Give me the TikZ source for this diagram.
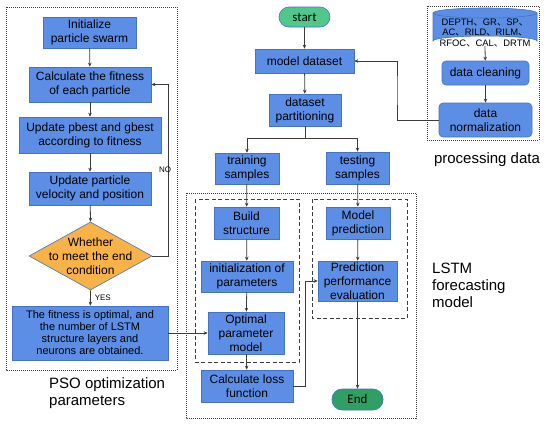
\documentclass[tikz,border=0pt]{standalone}
\usepackage{fontspec}
\setmainfont{Liberation Sans}
\newfontfamily\cjkfont{Noto Sans CJK SC}
\newfontfamily\califont{Carlito}
\usetikzlibrary{shapes.geometric,arrows.meta}
\definecolor{boxblue}{RGB}{91,142,228}
\definecolor{boxedge}{RGB}{68,114,196}
\definecolor{diaorange}{RGB}{247,178,72}
\definecolor{startgreen}{RGB}{80,200,140}
\definecolor{endgreen}{RGB}{46,160,100}
\definecolor{linegray}{RGB}{60,60,60}
\newcommand{\cc}{{\cjkfont 、}}
\begin{document}
\begin{tikzpicture}[x=1pt,y=-1pt,
  bbox/.style={draw=boxedge,fill=boxblue,line width=0.6pt,inner sep=0pt,align=center,
    font=\fontsize{12}{14}\selectfont},
  rbox/.style={bbox,rounded corners=4pt},
  term/.style={draw=boxedge,line width=0.6pt,rounded corners=10pt,inner sep=0pt,
    font=\califont\fontsize{13}{15}\selectfont},
  arr/.style={draw=linegray,line width=0.8pt,-{Stealth[length=4pt,width=3.5pt]}},
  conn/.style={draw=linegray,line width=0.8pt},
  dotbox/.style={draw=linegray,line width=0.7pt,dash pattern=on 1pt off 1pt},
  dashbox/.style={draw=linegray,line width=0.9pt,dash pattern=on 4pt off 2.5pt},
  biglabel/.style={font=\fontsize{15}{17}\selectfont,align=left,inner sep=0pt},
  tiny/.style={font=\fontsize{8}{9}\selectfont,inner sep=0pt}
]
\useasboundingbox (0,0) rectangle (550,424);
% group frames
\draw[dotbox] (6,7) rectangle (177,370);
\draw[dotbox] (186,193) rectangle (416,418);
\draw[dotbox] (427,6) rectangle (539,140);
\draw[dashbox] (195,199) rectangle (299,362);
\draw[dashbox] (312,199) rectangle (407,318);

% PSO column
\node[bbox,minimum width=93pt,minimum height=31pt] (init) at (89.5,32.5) {Initialize\\particle swarm};
\node[bbox,minimum width=122pt,minimum height=35pt] (fit) at (90,84.5) {Calculate the fitness\\of each particle};
\node[bbox,minimum width=142pt,minimum height=36pt] (upd) at (90,135) {Update pbest and gbest\\according to fitness};
\node[bbox,minimum width=122pt,minimum height=33pt] (vel) at (90,188.5) {Update particle\\velocity and position};
\node[diamond,draw=boxedge,fill=diaorange,line width=0.6pt,minimum width=123pt,minimum height=68pt,inner sep=0pt] (dia) at (90.5,256) {};
\node[align=center,inner sep=0pt,font=\fontsize{12}{14}\selectfont] (diatext) at (dia.center) {Whether\\to meet the end\\condition};
\node[bbox,minimum width=156pt,minimum height=54pt,font=\fontsize{11}{12}\selectfont] (fitres) at (90,333) {The fitness is optimal, and\\the number of LSTM\\structure layers and\\neurons are obtained.};
\node[biglabel,anchor=north west] (psolab) at (49,377) {PSO optimization\\parameters};

% middle column
\node[term,fill=startgreen,minimum width=51pt,minimum height=20pt] (start) at (304.5,17) {start};
\node[bbox,minimum width=99pt,minimum height=24pt] (mds) at (304.5,61) {model dataset};
\node[bbox,minimum width=72pt,minimum height=32pt] (dpart) at (305,110) {dataset\\partitioning};
\node[bbox,minimum width=64pt,minimum height=31pt] (train) at (247,168.5) {training\\samples};
\node[bbox,minimum width=63pt,minimum height=32pt] (test) at (357.5,168) {testing\\samples};
\node[bbox,minimum width=65pt,minimum height=32pt] (build) at (246.5,223) {Build\\structure};
\node[bbox,minimum width=92pt,minimum height=31pt] (initp) at (247,276.5) {initialization of\\parameters};
\node[bbox,minimum width=76pt,minimum height=42pt] (optm) at (246,333) {Optimal\\parameter\\model};
\node[bbox,minimum width=92pt,minimum height=32pt] (loss) at (247,386) {Calculate loss\\function};
\node[bbox,minimum width=64pt,minimum height=32pt] (mpred) at (358,223) {Model\\prediction};
\node[bbox,minimum width=79pt,minimum height=40pt] (ppe) at (357.5,281) {Prediction\\performance\\evaluation};
\node[term,fill=endgreen,minimum width=51pt,minimum height=21pt] (endn) at (357.5,399.5) {End};
\node[biglabel,anchor=north west] (lstmlab) at (432,263) {LSTM\\forecasting\\model};

% right column
\fill[boxblue] (433,13) -- (433,41) arc[start angle=180,end angle=360,x radius=52,y radius=5] -- (537,13) -- cycle;
\draw[boxedge,line width=0.6pt] (433,13) -- (433,41) arc[start angle=180,end angle=360,x radius=52,y radius=5] -- (537,13);
\draw[boxedge,fill=boxblue,line width=0.6pt] (485,13) ellipse[x radius=52,y radius=5];
\node[align=center,inner sep=0pt,font=\fontsize{9.4}{10.5}\selectfont] (cyl) at (485,32.5) {DEPTH\cc GR\cc SP\cc\\AC\cc RILD\cc RILM\cc\\RFOC\cc CAL\cc DRTM};
\coordinate (cylbot) at (485,46);
\node[rbox,minimum width=87pt,minimum height=24pt] (clean) at (485.5,73) {data cleaning};
\node[rbox,minimum width=93pt,minimum height=34pt] (norm) at (485.5,120) {data\\normalization};
\node[biglabel,align=center] (proclab) at (487,160) {processing data};

% PSO connectors
\draw[arr] (init) -- (fit);
\draw[arr] (fit) -- (upd);
\draw[arr] (upd) -- (vel);
\draw[arr] (vel) -- (dia.north);
\draw[arr] (dia.south) -- node[tiny,right=4pt] {YES} (fitres);
\coordinate (nocorner) at (168,84.5);
\draw[arr] (dia.east) -| (nocorner) -- (fit.east);
\node[tiny] (nolab) at (165,170) {NO};
\draw[arr] (fitres.east) -- (optm.west);

% middle connectors
\draw[arr] (start) -- (mds);
\draw[arr] (mds) -- (dpart);
\coordinate (split) at (305,138);
\draw[arr] (dpart.south) -- (split) -| (train.north);
\draw[arr] (split) -| (test.north);
\draw[arr] (train) -- (build);
\draw[arr] (test) -- (mpred);
\draw[arr] (build) -- (initp);
\draw[arr] (initp) -- (optm);
\draw[arr] (optm) -- (loss);
\draw[arr] (mpred) -- (ppe);
\draw[arr] (ppe) -- (endn);
\coordinate (lossturn) at (305,386);
\draw[arr] (loss.east) -- (lossturn) |- (ppe.west);

% right connectors
\draw[arr] (cylbot) -- (clean);
\draw[arr] (clean) -- (norm);
\coordinate (procturn) at (397,90);
\draw[arr] (norm.west) -| (procturn) |- (mds.east);
\end{tikzpicture}
\end{document}
